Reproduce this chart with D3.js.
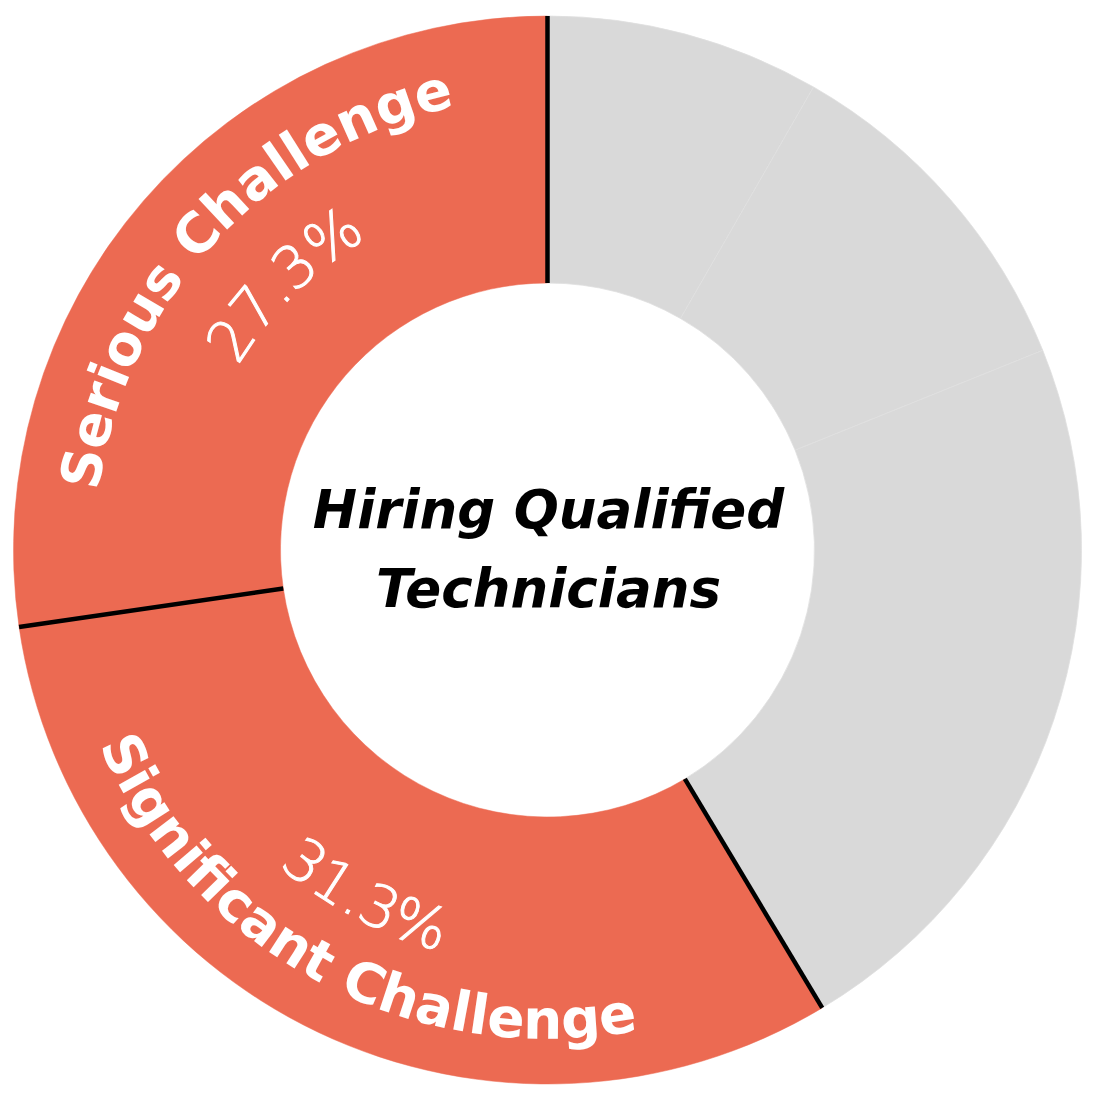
<!DOCTYPE html>
<html><head><meta charset="utf-8">
<script src="https://cdn.jsdelivr.net/npm/d3@7"></script>
<style>
html,body{margin:0;padding:0;background:#fff;}
svg{display:block;}
</style></head>
<body>
<svg id="chart" width="1102" height="1108"></svg>
<script>
// ---- data ----
const categories = ["Other A", "Other B", "Other C", "Significant Challenge", "Serious Challenge"];
const values = [8.3, 10.6, 22.5, 31.3, 27.3];
const highlighted = [false, false, false, true, true];
const pctLabels = ["8.3%", "10.6%", "22.5%", "31.3%", "27.3%"];
const titleLines = ["Hiring Qualified", "Technicians"];

// ---- layout ----
const cx = 547.5, cy = 550;
const rOuter = 534, rInner = 267;
const RED = "#EC6A52", GRAY = "#D9D9D9";
const BOLD = "'DejaVu Sans', Lato, sans-serif";

const svg = d3.select("#chart");
const g = svg.append("g").attr("transform", `translate(${cx},${cy})`);

const data = categories.map((c, i) => ({cat: c, value: values[i], hi: highlighted[i], pct: pctLabels[i]}));
const pie = d3.pie().sort(null).value(d => d.value).startAngle(0).endAngle(2 * Math.PI);
const arcs = pie(data);
const arc = d3.arc().innerRadius(rInner).outerRadius(rOuter);

g.selectAll("path.slice").data(arcs).join("path")
  .attr("class", "slice")
  .attr("d", arc)
  .attr("fill", d => d.data.hi ? RED : GRAY)
  .attr("stroke", d => d.data.hi ? RED : "#e0e0e0")
  .attr("stroke-width", d => d.data.hi ? 0.5 : 0.8);

// separator lines at highlighted slice boundaries
const pt = (a, r) => [r * Math.sin(a), -r * Math.cos(a)];
const sepAngles = [];
arcs.forEach(d => { if (d.data.hi) { sepAngles.push(d.startAngle, d.endAngle); } });
const uniq = Array.from(new Set(sepAngles.map(a => +(a % (2 * Math.PI)).toFixed(6))));
g.selectAll("line.sep").data(uniq).join("line")
  .attr("class", "sep")
  .attr("x1", a => pt(a, rInner)[0]).attr("y1", a => pt(a, rInner)[1])
  .attr("x2", a => pt(a, rOuter)[0]).attr("y2", a => pt(a, rOuter)[1])
  .attr("stroke", "#000").attr("stroke-width", 4.5);

// curved labels
const defs = svg.append("defs");
function arcPath(mid, r, clockwise) {
  const span = Math.PI / 2;
  const a0 = clockwise ? mid - span : mid + span;
  const a1 = clockwise ? mid + span : mid - span;
  const p0 = pt(a0, r), p1 = pt(a1, r);
  return `M${p0[0]},${p0[1]} A${r},${r} 0 0 ${clockwise ? 1 : 0} ${p1[0]},${p1[1]}`;
}
const hiArcs = arcs.filter(d => d.data.hi);
hiArcs.forEach((d, i) => {
  const mid = (d.startAngle + d.endAngle) / 2;
  const bottom = Math.cos(mid) < 0; // lower half -> read left-to-right, tops inward
  const shift = (bottom ? 2.5 : 2) * Math.PI / 180;
  const shiftPct = (bottom ? 2.3 : 4.5) * Math.PI / 180;
  const rName = bottom ? 489 : 453;
  const rPct = bottom ? 415 : 360;
  const idN = "pn" + i, idP = "pp" + i;
  defs.append("path").attr("id", idN).attr("d", arcPath(mid + shift, rName, !bottom));
  defs.append("path").attr("id", idP).attr("d", arcPath(mid + shiftPct, rPct, !bottom));
  g.append("text")
    .attr("fill", "#fff")
    .style("font-family", BOLD)
    .style("font-weight", 700)
    .style("font-size", "55px")
    .append("textPath").attr("href", "#" + idN)
    .attr("startOffset", "50%").attr("text-anchor", "middle")
    .text(d.data.cat);
  g.append("text")
    .attr("fill", "#fff")
    .attr("stroke", "#fff")
    .attr("stroke-width", 1)
    .style("font-family", "'DejaVu Sans', Lato, sans-serif")
    .style("font-weight", 200)
    .style("font-size", "58px")
    .append("textPath").attr("href", "#" + idP)
    .attr("startOffset", "50%").attr("text-anchor", "middle")
    .text(d.data.pct);
});

// centre title
g.append("g").selectAll("text").data(titleLines).join("text")
  .attr("x", 1).attr("y", (d, i) => -22 + i * 79)
  .attr("text-anchor", "middle")
  .attr("fill", "#000")
  .style("font-family", BOLD)
  .style("font-weight", 700)
  .style("font-style", "italic")
  .style("font-size", "53px")
  .text(d => d);
</script>
</body></html>
